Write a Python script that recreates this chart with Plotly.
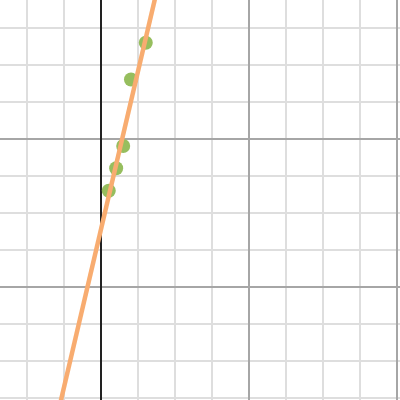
import plotly.graph_objects as go
import numpy as np

# data (units: one minor grid square = 1)
point_x = [0.21, 0.41, 0.60, 0.81, 1.21]
point_y = [6.60, 7.21, 7.81, 9.61, 10.60]
line_slope = 4.27
line_intercept = 5.56

x_range = [-101 / 37, 299 / 37]
y_range = [35 / 37, 435 / 37]

line_x = np.array([-3.0, 9.0])
line_y = line_slope * line_x + line_intercept

fig = go.Figure()
fig.add_trace(go.Scatter(
    x=point_x, y=point_y, mode="markers",
    marker=dict(size=14, color="rgb(150,190,94)", line=dict(width=0)),
    hoverinfo="skip"))
fig.add_trace(go.Scatter(
    x=line_x, y=line_y, mode="lines",
    line=dict(color="rgb(248,172,112)", width=4.5),
    hoverinfo="skip"))

axis_common = dict(
    showticklabels=False, ticks="", showline=False,
    showgrid=True, gridcolor="#a6a6a6", gridwidth=1.5,
    dtick=4, tick0=0,
    minor=dict(dtick=1, tick0=0, showgrid=True, gridcolor="#dedede", gridwidth=1.5),
)
fig.update_layout(
    width=400, height=400, margin=dict(l=0, r=0, t=0, b=0),
    paper_bgcolor="white", plot_bgcolor="white", showlegend=False,
    xaxis=dict(range=x_range, zeroline=True, zerolinecolor="#222222", zerolinewidth=2, **axis_common),
    yaxis=dict(range=y_range, zeroline=False, **axis_common),
)
fig.write_html("out.html", config={"displayModeBar": False},
               post_script="document.body.style.margin='0';document.body.style.overflow='hidden';")
